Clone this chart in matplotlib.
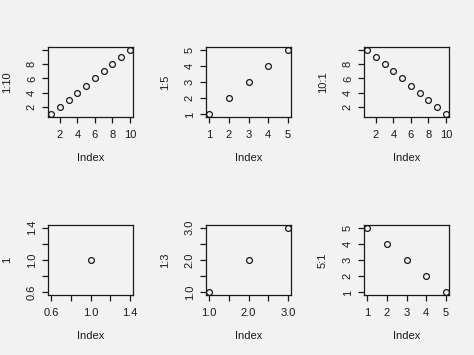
import numpy as np
import matplotlib
matplotlib.use("Agg")
import matplotlib.pyplot as plt

plt.rcParams['font.family'] = ['Liberation Sans', 'DejaVu Sans']

# the six vectors that were plotted against their index
series = [list(range(1, 11)), list(range(1, 6)), list(range(10, 0, -1)),
          [1], [1, 2, 3], [5, 4, 3, 2, 1]]
ylabels = ['1:10', '1:5', '10:1', '1', '1:3', '5:1']

# tick positions and labels (R drops labels that would overlap)
xticks = [[2, 4, 6, 8, 10], [1, 2, 3, 4, 5], [2, 4, 6, 8, 10],
          [0.6, 0.8, 1.0, 1.2, 1.4], [1.0, 1.5, 2.0, 2.5, 3.0], [1, 2, 3, 4, 5]]
xticklabels = [['2', '4', '6', '8', '10'], ['1', '2', '3', '4', '5'],
               ['2', '4', '6', '8', '10'], ['0.6', '', '1.0', '', '1.4'],
               ['1.0', '', '2.0', '', '3.0'], ['1', '2', '3', '4', '5']]
yticks = [[2, 4, 6, 8, 10], [1, 2, 3, 4, 5], [2, 4, 6, 8, 10],
          [0.6, 0.8, 1.0, 1.2, 1.4], [1.0, 1.5, 2.0, 2.5, 3.0], [1, 2, 3, 4, 5]]
yticklabels = [['2', '4', '6', '8', ''], ['1', '2', '3', '4', '5'],
               ['2', '4', '6', '8', ''], ['0.6', '', '1.0', '', '1.4'],
               ['1.0', '', '2.0', '', '3.0'], ['1', '2', '3', '4', '5']]

W, H = 474, 355
bg = '#f2f2f2'
ink = '#1a1a1a'
fig = plt.figure(figsize=(W / 100, H / 100), dpi=100, facecolor=bg)

lefts = [48, 206, 364]
tops = [47, 225]
pw, ph = 85, 70


def rlim(v):
    lo, hi = min(v), max(v)
    if lo == hi:
        lo, hi = lo - 0.4, hi + 0.4
    pad = (hi - lo) * 0.04
    return lo - pad, hi + pad


for i, y in enumerate(series):
    r, c = divmod(i, 3)
    ax = fig.add_axes([lefts[c] / W, 1 - (tops[r] + ph) / H, pw / W, ph / H])
    ax.set_facecolor(bg)
    x = np.arange(1, len(y) + 1)
    ax.plot(x, y, 'o', mfc='none', mec=ink, ms=4.2, mew=0.9, clip_on=False)
    ax.set_xlim(rlim(x))
    ax.set_ylim(rlim(y))
    ax.set_xticks(xticks[i])
    ax.set_xticklabels(xticklabels[i])
    ax.set_yticks(yticks[i])
    ax.set_yticklabels(yticklabels[i], rotation=90, va='center')
    ax.tick_params(direction='out', length=4.5, width=0.9, colors=ink,
                   labelsize=8)
    ax.tick_params(axis='x', pad=5)
    ax.tick_params(axis='y', pad=3.5)
    for s in ax.spines.values():
        s.set_linewidth(0.9)
        s.set_color(ink)
    ax.set_xlabel('Index', fontsize=8, color=ink, labelpad=9)
    ax.set_ylabel(ylabels[i], fontsize=8, color=ink, labelpad=11)

fig.savefig('out.png', dpi=100, facecolor=bg)
